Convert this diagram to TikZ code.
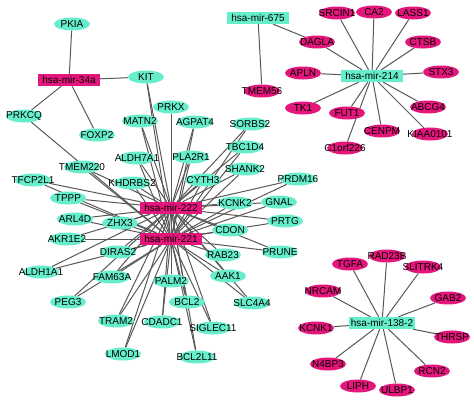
\documentclass[tikz,border=0pt]{standalone}
\usepackage{fontspec}
\setmainfont{Liberation Sans}
\usetikzlibrary{shapes.geometric, backgrounds}
\definecolor{cAqua}{RGB}{102,238,204}
\definecolor{cPink}{RGB}{228,22,124}
\definecolor{cEdge}{RGB}{88,88,88}
\tikzset{
	gene/.style={ellipse, fill=cAqua, minimum width=36pt, minimum height=13pt, inner sep=0pt,
		execute at begin node={\hbox to 0pt\bgroup\hss}, execute at end node={\hss\egroup}},
	pgene/.style={gene, fill=cPink},
	mirbox/.style={rectangle, fill=cPink, minimum width=62pt, minimum height=12pt, inner sep=0pt,
		execute at begin node={\hbox to 0pt\bgroup\hss}, execute at end node={\hss\egroup}},
	cmirbox/.style={mirbox, fill=cAqua},
	link/.style={draw=cEdge, line width=1pt},
}
\begin{document}
\begin{tikzpicture}[x=1pt, y=-1pt, font=\fontsize{10}{12}\selectfont]
	\useasboundingbox (0,0) rectangle (474,400);
	% hsa-mir-34a
	\node[mirbox] (m34a) at (69,80) {hsa-mir-34a};
	\node[gene] (pkia) at (72,24) {PKIA};
	\node[gene] (kit) at (146,77) {KIT};
	\node[gene] (prkcq) at (24,116) {PRKCQ};
	\node[gene] (foxp2) at (97,135) {FOXP2};
	% hsa-mir-222 / hsa-mir-221
	\node[mirbox] (m222) at (171,208) {hsa-mir-222};
	\node[mirbox] (m221) at (171,239) {hsa-mir-221};
	\node[gene] (prkx) at (171,107) {PRKX};
	\node[gene] (matn2) at (140,121) {MATN2};
	\node[gene] (agpat4) at (195,122) {AGPAT4};
	\node[gene] (sorbs2) at (250,124) {SORBS2};
	\node[gene] (tbc1d4) at (245,147) {TBC1D4};
	\node[gene] (shank2) at (245,169) {SHANK2};
	\node[gene] (prdm16) at (298,179) {PRDM16};
	\node[gene] (gnal) at (279,202) {GNAL};
	\node[gene] (kcnk2) at (235,203) {KCNK2};
	\node[gene] (prtg) at (285,221) {PRTG};
	\node[gene] (cdon) at (230,230) {CDON};
	\node[gene] (prune) at (280,252) {PRUNE};
	\node[gene] (rab23) at (223,255) {RAB23};
	\node[gene] (aak1) at (228,276) {AAK1};
	\node[gene] (slc4a4) at (252,303) {SLC4A4};
	\node[gene] (siglec11) at (213,328) {SIGLEC11};
	\node[gene] (bcl2l11) at (197,357) {BCL2L11};
	\node[gene] (bcl2) at (187,302) {BCL2};
	\node[gene] (palm2) at (171,281) {PALM2};
	\node[gene] (cdadc1) at (162,322) {CDADC1};
	\node[gene] (lmod1) at (123,354) {LMOD1};
	\node[gene] (tram2) at (116,321) {TRAM2};
	\node[gene] (peg3) at (68,302) {PEG3};
	\node[gene] (fam63a) at (112,277) {FAM63A};
	\node[gene] (aldh1a1) at (41,272) {ALDH1A1};
	\node[gene] (diras2) at (118,252) {DIRAS2};
	\node[gene] (zhx3) at (120,223) {ZHX3};
	\node[gene] (akr1e2) at (67,239) {AKR1E2};
	\node[gene] (arl4d) at (75,219) {ARL4D};
	\node[gene] (tppp) at (68,198) {TPPP};
	\node[gene] (tfcp2l1) at (33,180) {TFCP2L1};
	\node[gene] (tmem220) at (82,167) {TMEM220};
	\node[gene] (khdrbs2) at (132,183) {KHDRBS2};
	\node[gene] (aldh7a1) at (137,158) {ALDH7A1};
	\node[gene] (pla2r1) at (191,157) {PLA2R1};
	\node[gene] (cyth3) at (203,180) {CYTH3};
	% hsa-mir-675 / hsa-mir-214
	\node[cmirbox] (m675) at (258,18) {hsa-mir-675};
	\node[cmirbox] (m214) at (372,76) {hsa-mir-214};
	\node[pgene] (tmem56) at (262,91) {TMEM56};
	\node[pgene] (dagla) at (317,42) {DAGLA};
	\node[pgene] (srcin1) at (337,13) {SRCIN1};
	\node[pgene] (ca2) at (374,12) {CA2};
	\node[pgene] (lass1) at (413,13) {LASS1};
	\node[pgene] (ctsb) at (423,42) {CTSB};
	\node[pgene] (stx3) at (441,72) {STX3};
	\node[pgene] (abcg4) at (428,107) {ABCG4};
	\node[pgene] (kiaa0101) at (430,134) {KIAA0101};
	\node[pgene] (cenpm) at (382,131) {CENPM};
	\node[pgene] (c1orf226) at (345,148) {C1orf226};
	\node[pgene] (fut1) at (347,113) {FUT1};
	\node[pgene] (tk1) at (303,108) {TK1};
	\node[pgene] (apln) at (303,73) {APLN};
	% hsa-mir-138-2
	\node[cmirbox, minimum width=66pt] (m1382) at (382,323) {hsa-mir-138-2};
	\node[pgene] (tgfa) at (350,264) {TGFA};
	\node[pgene] (rad23b) at (387,256) {RAD23B};
	\node[pgene] (slitrk4) at (423,267) {SLITRK4};
	\node[pgene] (nrcam) at (323,291) {NRCAM};
	\node[pgene] (gab2) at (448,298) {GAB2};
	\node[pgene] (kcnk1) at (316,328) {KCNK1};
	\node[pgene] (thrsp) at (452,337) {THRSP};
	\node[pgene] (n4bp3) at (328,364) {N4BP3};
	\node[pgene] (rcn2) at (432,371) {RCN2};
	\node[pgene] (liph) at (358,386) {LIPH};
	\node[pgene] (ulbp1) at (397,390) {ULBP1};
	% links
	\begin{scope}[on background layer]
		\foreach \g in {pkia,kit,prkcq,foxp2}
			\draw[link] (m34a) -- (\g);
		\draw[link] (prkcq) -- (m221);
		\foreach \g in {kit,prkx,matn2,agpat4,sorbs2,tbc1d4,shank2,prdm16,gnal,kcnk2,prtg,cdon,prune,rab23,aak1,slc4a4,siglec11,bcl2l11,bcl2,palm2,cdadc1,lmod1,tram2,peg3,fam63a,aldh1a1,diras2,zhx3,akr1e2,arl4d,tppp,tfcp2l1,tmem220,khdrbs2,aldh7a1,pla2r1,cyth3}{
			\draw[link] (m222) -- (\g);
			\draw[link] (m221) -- (\g);
		}
		\foreach \g in {tmem56,dagla}
			\draw[link] (m675) -- (\g);
		\foreach \g in {dagla,srcin1,ca2,lass1,ctsb,stx3,abcg4,kiaa0101,cenpm,c1orf226,fut1,tk1,apln}
			\draw[link] (m214) -- (\g);
		\foreach \g in {tgfa,rad23b,slitrk4,nrcam,gab2,kcnk1,thrsp,n4bp3,rcn2,liph,ulbp1}
			\draw[link] (m1382) -- (\g);
	\end{scope}
\end{tikzpicture}
\end{document}
